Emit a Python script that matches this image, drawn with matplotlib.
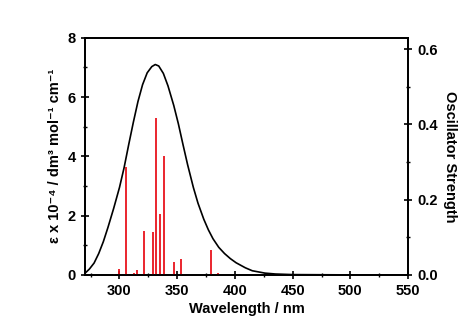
import matplotlib.pyplot as plt

plt.rcParams['font.family'] = ['Liberation Sans', 'DejaVu Sans']
plt.rcParams['font.weight'] = 'bold'

# absorption spectrum
wavelength = [270, 274, 278, 282, 286, 290, 295, 300, 304, 308, 312, 316, 320, 324,
              328, 331, 334, 338, 342, 347, 351, 355, 359, 364, 368, 373, 377, 381,
              386, 391, 396, 401, 409, 415, 426, 435, 450, 475, 500, 550]
epsilon = [0.05, 0.2, 0.4, 0.72, 1.12, 1.6, 2.25, 2.95, 3.62, 4.4, 5.15, 5.85, 6.42, 6.82,
           7.03, 7.1, 7.05, 6.8, 6.38, 5.72, 5.1, 4.4, 3.72, 2.95, 2.42, 1.88, 1.52, 1.22,
           0.93, 0.72, 0.55, 0.41, 0.24, 0.14, 0.06, 0.03, 0.01, 0.005, 0.0, 0.0]

# calculated transitions
trans_nm = [295.2, 299.5, 305.3, 312.8, 314.9, 320.9, 329.3, 331.6, 335.1, 338.3,
            347.0, 353.0, 379.4, 385.7]
trans_f = [0.003, 0.016, 0.286, 0.004, 0.013, 0.116, 0.114, 0.417, 0.163, 0.315,
           0.035, 0.043, 0.065, 0.006]

fig = plt.figure(figsize=(4.74, 3.32), dpi=100)
ax = fig.add_axes([0.179, 0.172, 0.682, 0.714])
ax2 = ax.twinx()

ax.plot(wavelength, epsilon, color='black', lw=1.2, zorder=3)
ax2.vlines(trans_nm, 0, trans_f, color='#e8141c', lw=1.3)

ax.set_xlim(270, 550)
ax.set_ylim(0, 8)
ax2.set_ylim(0, 0.63)

ax.set_xticks([300, 350, 400, 450, 500, 550])
ax.set_xticks(range(275, 551, 50), minor=True)
ax.set_yticks([0, 2, 4, 6, 8])
ax.set_yticks([1, 3, 5, 7], minor=True)
ax2.set_yticks([0.0, 0.2, 0.4, 0.6])
ax2.set_yticks([0.1, 0.3, 0.5], minor=True)
ax2.set_yticklabels(['0.0', '0.2', '0.4', '0.6'])

for a in (ax, ax2):
    a.tick_params(which='major', direction='inout', length=6, width=1.2, labelsize=10.5)
    a.tick_params(which='minor', direction='inout', length=3.5, width=1.0)
    for s in a.spines.values():
        s.set_linewidth(1.3)
ax.tick_params(top=False, right=False, which='both')
ax2.tick_params(left=False, which='both')

ax.set_xlabel('Wavelength / nm', fontsize=10.5, fontweight='bold', labelpad=3)
ax.set_ylabel('ε x 10⁻⁴ / dm³ mol⁻¹ cm⁻¹', fontsize=10.5, fontweight='bold', labelpad=4)
ax2.set_ylabel('Oscillator Strength', fontsize=10.5, fontweight='bold',
               rotation=270, labelpad=14)

fig.savefig('out.png', dpi=100)
